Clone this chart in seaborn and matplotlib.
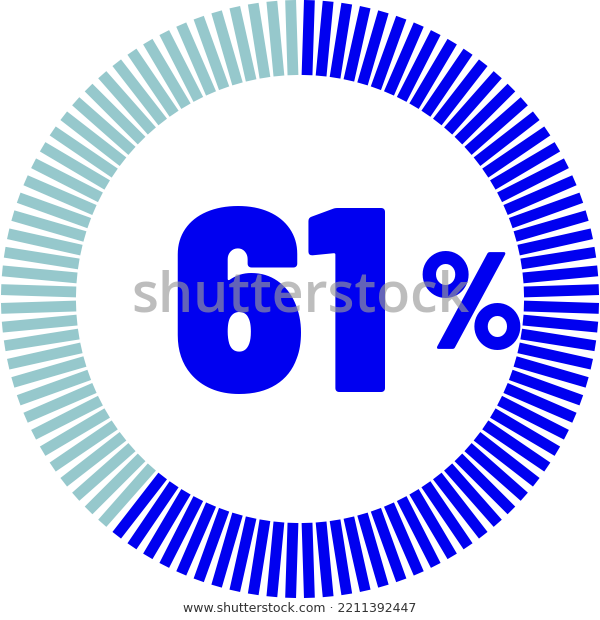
import numpy as np
import pandas as pd
import matplotlib
matplotlib.use("Agg")
import matplotlib.pyplot as plt
from matplotlib import font_manager
import seaborn as sns

# gauge data
percent = 61
n_segments = 100
status_labels = ["filled", "empty"]
status_colors = {"filled": "#0000F0", "empty": "#96C8CC"}
center_label = "61"
suffix_label = "%"
watermark = "shutterstock"
caption = "www.shutterstock.com · 2211392447"

sns.set_theme(style="white")

names = {f.name for f in font_manager.fontManager.ttflist}


def pick_font(candidates):
    for cand in candidates:
        if cand in names:
            return cand
    return "DejaVu Sans"


digit_font = pick_font(["Barlow Semi Condensed", "Barlow Condensed", "Anton"])
pct_font = pick_font(["Barlow Condensed", "Anton"])

# one row per segment end point
rows = []
for i in range(n_segments):
    ang = np.deg2rad((i + 0.5) * 360 / n_segments)
    status = status_labels[0] if i < percent else status_labels[1]
    for r in (224, 299):
        rows.append({"seg": i, "x": 300 + r * np.sin(ang), "y": 299 - r * np.cos(ang),
                     "r": r, "status": status})
df = pd.DataFrame(rows)

fig = plt.figure(figsize=(6, 6.2), dpi=100)
ax = fig.add_axes([0, 0, 1, 1])
sns.lineplot(data=df, x="x", y="y", units="seg", hue="status", palette=status_colors,
             estimator=None, sort=False, linewidth=7.8, legend=False, ax=ax)
for line in ax.lines:
    line.set_solid_capstyle("butt")

ax.text(282, 300, center_label, ha="center", va="center_baseline", fontsize=190,
        fontweight=900, family=digit_font, color=status_colors["filled"])
ax.text(471, 301, suffix_label, ha="center", va="center_baseline", fontsize=100,
        fontweight=900, family=pct_font, color=status_colors["filled"])
ax.text(300, 298, watermark, ha="center", va="center", fontsize=40, fontweight=600,
        color="#9a9a9a", alpha=0.65, family="Open Sans")
ax.text(300, 609, caption, ha="center", va="center", fontsize=9, color="#333333")

ax.set_xlim(0, 600)
ax.set_ylim(620, 0)
ax.set_axis_off()
fig.savefig("out.png", dpi=100)
